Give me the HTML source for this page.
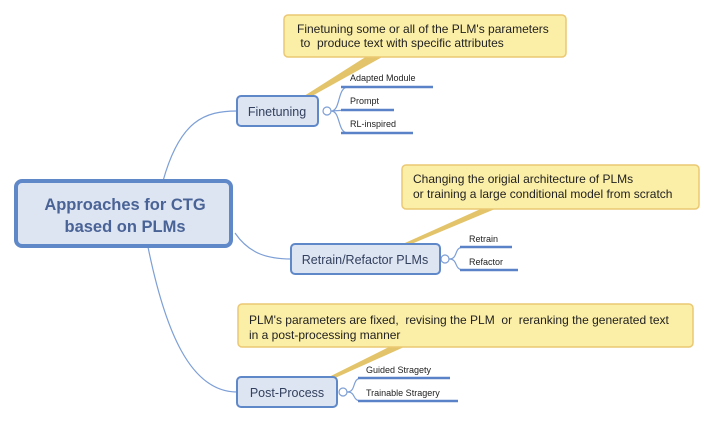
<!DOCTYPE html>
<html><head><style>
body{margin:0;background:#fff;width:720px;height:421px;overflow:hidden;font-family:"Liberation Sans",sans-serif;}
</style></head><body>
<svg width="720" height="421" xmlns="http://www.w3.org/2000/svg" font-family="Liberation Sans, sans-serif">
<g fill="none" stroke="#7d9fd6" stroke-width="1.2">
<path d="M163,181 C180,120 205,111 237,111"/>
<path d="M235,233 C250,255 270,259 291,259"/>
<path d="M148,247 C165,330 190,392 237,392"/>
<path d="M331,111 C341,111 337,87 348,87 M331,111 L348,110 M331,111 C341,111 337,133 348,133"/>
<path d="M449,259 C459,259 453,247 464,247 M449,259 C459,259 453,270 464,270"/>
<path d="M347,392 C357,392 351,378 362,378 M347,392 C357,392 351,401 362,401"/>
</g>
<g fill="#e3c46a" stroke="#e3c46a">
<polygon points="368,56 383,56 311,96 305,96"/>
<polygon points="484,208 496,208 410,244 404,244"/>
<polygon points="392,346 405,346 336,377 330,377"/>
</g>
<g stroke="#5a82c8" stroke-width="2.5">
<line x1="341" y1="87" x2="433" y2="87"/><line x1="341" y1="110" x2="394" y2="110"/><line x1="341" y1="133" x2="413" y2="133"/>
<line x1="460" y1="247" x2="512" y2="247"/><line x1="460" y1="270" x2="518" y2="270"/>
<line x1="358" y1="378" x2="450" y2="378"/><line x1="358" y1="401" x2="458" y2="401"/>
</g>
<g fill="#fff" stroke="#7d9fd6" stroke-width="1.2">
<circle cx="327" cy="111" r="4"/><circle cx="445" cy="259" r="4"/><circle cx="343" cy="392" r="4"/>
</g>
<g fill="#fbeea6" stroke="#ebc873" stroke-width="1.5">
<rect x="284" y="15" width="282" height="42" rx="4"/>
<rect x="402" y="165" width="297" height="44" rx="4"/>
<rect x="238" y="304" width="455" height="43" rx="4"/>
</g>
<g fill="#dde4f2" stroke="#5f88c9">
<rect x="16" y="181" width="215" height="65" rx="6" stroke-width="4"/>
<rect x="237" y="96" width="81" height="30" rx="4" stroke-width="2"/>
<rect x="291" y="244" width="149" height="30" rx="4" stroke-width="2"/>
<rect x="237" y="377" width="100" height="30" rx="4" stroke-width="2"/>
</g>
<g fill="#4a6396" font-weight="bold" font-size="16.5" text-anchor="middle">
<text x="125" y="210">Approaches for CTG</text><text x="125" y="232">based on PLMs</text>
</g>
<g fill="#33415e" font-size="12.5" text-anchor="middle">
<text x="277" y="116">Finetuning</text>
<text x="365" y="264">Retrain/Refactor PLMs</text>
<text x="287" y="397">Post-Process</text>
</g>
<g fill="#222" font-size="9">
<text x="350" y="81">Adapted Module</text><text x="350" y="104">Prompt</text><text x="350" y="127">RL-inspired</text>
<text x="469" y="242">Retrain</text><text x="469" y="265">Refactor</text>
<text x="366" y="373">Guided Stragety</text><text x="366" y="396">Trainable Stragery</text>
</g>
<g fill="#222" font-size="12">
<text x="297" y="33">Finetuning some or all of the PLM's parameters</text>
<text x="297" y="47" xml:space="preserve"> to  produce text with specific attributes</text>
<text x="413" y="183">Changing the origial architecture of PLMs</text>
<text x="413" y="198">or training a large conditional model from scratch</text>
<text x="249" y="324" xml:space="preserve">PLM's parameters are fixed,  revising the PLM  or  reranking the generated text</text>
<text x="249" y="339">in a post-processing manner</text>
</g>
</svg>
</body></html>
